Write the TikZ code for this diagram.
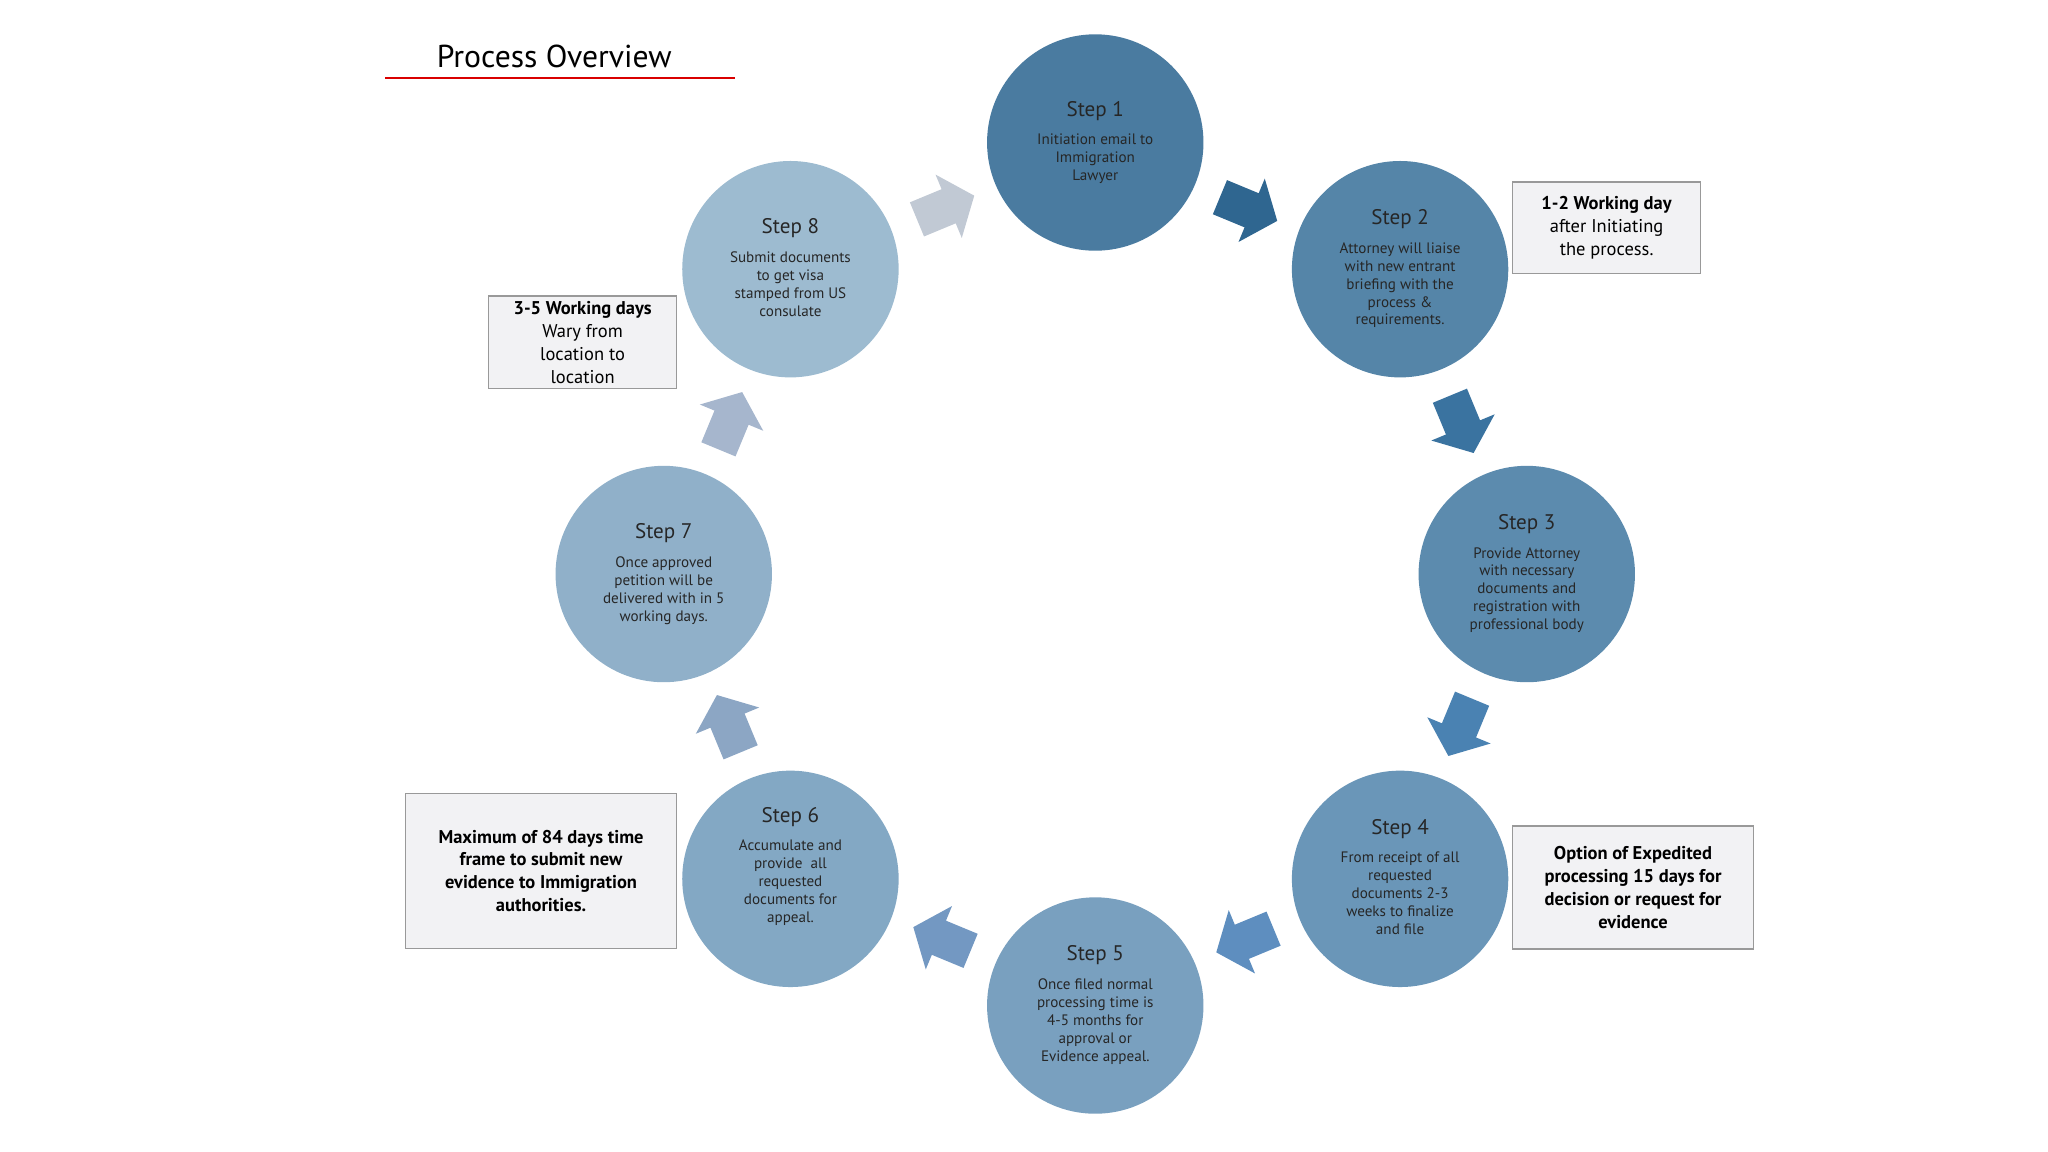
\documentclass[tikz,border=0pt]{standalone}
\usepackage{fontspec}
\setmainfont{PT Sans}
\definecolor{c1}{HTML}{4A7BA0}\definecolor{c2}{HTML}{5585A8}\definecolor{c3}{HTML}{5C8BAE}
\definecolor{c4}{HTML}{6A96B8}\definecolor{c5}{HTML}{79A0BF}\definecolor{c6}{HTML}{83A8C4}
\definecolor{c7}{HTML}{90B0C9}\definecolor{c8}{HTML}{9DBBD0}
\definecolor{notefill}{HTML}{F2F2F4}
\begin{document}
\begin{tikzpicture}[x=0.75pt,y=-0.75pt,
  stepc/.style={circle,minimum size=123pt,inner sep=0pt},
  steptitle/.style={text=black!85,font=\fontsize{12}{14}\selectfont},
  stepbody/.style={align=center,text=black!85,anchor=north,font=\fontsize{8.6}{10.2}\selectfont},
  note/.style={draw=gray!80,line width=0.8pt,fill=notefill,align=center,inner sep=3pt,font=\fontsize{10.5}{13}\selectfont}]
\useasboundingbox (0,0) rectangle (1552,873);
\node[stepc,fill=c1] (s1) at (830,108) {};
\node[stepc,fill=c2] (s2) at (1061,204) {};
\node[stepc,fill=c3] (s3) at (1157,435) {};
\node[stepc,fill=c4] (s4) at (1061,666) {};
\node[stepc,fill=c5] (s5) at (830,762) {};
\node[stepc,fill=c6] (s6) at (599,666) {};
\node[stepc,fill=c7] (s7) at (503,435) {};
\node[stepc,fill=c8] (s8) at (599,204) {};
\node[steptitle] (h1) at (830,84) {Step 1};
\node[stepbody] (b1) at (830,97) {Initiation email to\\Immigration\\Lawyer};
\node[steptitle] (h2) at (1061,166) {Step 2};
\node[stepbody] (b2) at (1061,179) {Attorney will liaise\\with new entrant\\briefing with the\\process \&\\requirements.};
\node[steptitle] (h3) at (1157,397) {Step 3};
\node[stepbody] (b3) at (1157,410) {Provide Attorney\\with necessary\\documents and\\registration with\\professional body};
\node[steptitle] (h4) at (1061,628) {Step 4};
\node[stepbody] (b4) at (1061,641) {From receipt of all\\requested\\documents 2-3\\weeks to finalize\\and file};
\node[steptitle] (h5) at (830,724) {Step 5};
\node[stepbody] (b5) at (830,737) {Once filed normal\\processing time is\\4-5 months for\\approval or\\Evidence appeal.};
\node[steptitle] (h6) at (599,619) {Step 6};
\node[stepbody] (b6) at (599,632) {Accumulate and\\provide~ all\\requested\\documents for\\appeal.};
\node[steptitle] (h7) at (503,404) {Step 7};
\node[stepbody] (b7) at (503,417) {Once approved\\petition will be\\delivered with in 5\\working days.};
\node[steptitle] (h8) at (599,173) {Step 8};
\node[stepbody] (b8) at (599,186) {Submit documents\\to get visa\\stamped from US\\consulate};
\foreach \a/\col in {-22.5/2F6690, -67.5/3A73A0, -112.5/4A82B2, -157.5/5E8EBF, 157.5/7398C2, 112.5/8CA6C4, 67.5/A6B6CD, 22.5/C1C9D4}{
  \pgfmathsetmacro{\mx}{830+300*cos(\a+90)}
  \pgfmathsetmacro{\my}{435-300*sin(\a+90)}
  \definecolor{ac}{HTML}{\col}
  \begin{scope}[shift={(\mx,\my)},rotate=\a]
    \fill[ac] (-22,-14) -- (4,-14) -- (4,-26) -- (25,0) -- (4,26) -- (4,14) -- (-22,14) -- cycle;
  \end{scope}
}
\node[note,minimum width=107pt,minimum height=52pt] (n1) at (1217.5,172.5) {\textbf{1-2 Working day}\\after Initiating\\the process.};
\node[note,minimum width=107pt,minimum height=52pt] (n2) at (441.5,259.5) {\textbf{3-5 Working days}\\Wary from\\location to\\location};
\node[note,minimum width=154pt,minimum height=88pt,font=\fontsize{10.5}{13}\selectfont\bfseries] (n3) at (410,660) {Maximum of 84 days time\\frame to submit new\\evidence to Immigration\\authorities.};
\node[note,minimum width=137pt,minimum height=70pt,font=\fontsize{10.5}{13}\selectfont\bfseries] (n4) at (1237.5,672.5) {Option of Expedited\\processing 15 days for\\decision or request for\\evidence};
\node[font=\fontsize{18}{20}\selectfont] (t) at (420,43) {Process Overview};
\draw[red!85!black,line width=1pt] (292,59) -- (557,59);
\end{tikzpicture}
\end{document}
